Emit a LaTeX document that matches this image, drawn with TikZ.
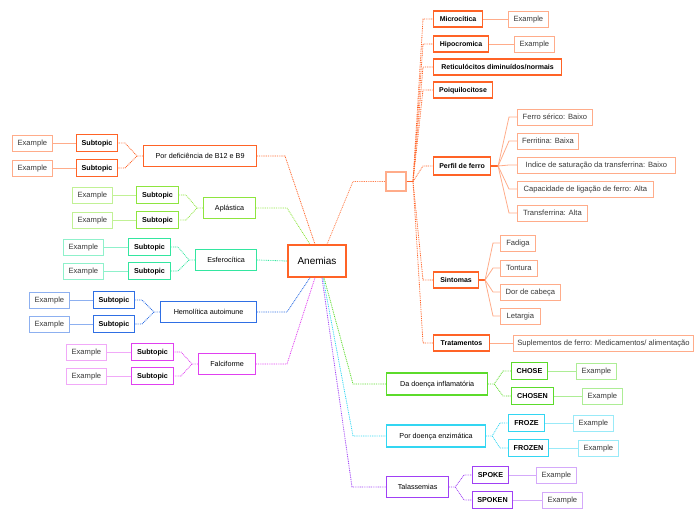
\documentclass[tikz,border=0pt]{standalone}
\usepackage{fontspec}
\setmainfont{Liberation Sans}
\usetikzlibrary{shadows}
\definecolor{orA}{HTML}{FF6326}
\definecolor{orL}{HTML}{FFAC8A}
\definecolor{grA}{HTML}{8EE53F}
\definecolor{grD}{HTML}{5CDB2B}
\definecolor{mnt}{HTML}{33E6A0}
\definecolor{blu}{HTML}{2F6FE4}
\definecolor{mag}{HTML}{E040F0}
\definecolor{cya}{HTML}{33D6F2}
\definecolor{pur}{HTML}{A040F5}
\definecolor{txg}{HTML}{3A3A3A}
\tikzset{
 box/.style={draw, fill=white, inner xsep=2pt, inner ysep=0pt, anchor=west, text height=5.3pt, text depth=0pt},
 shd/.style={drop shadow={shadow xshift=0.6pt, shadow yshift=-0.8pt, opacity=0.25, fill=black}},
 topic/.style={box, shd, line width=1.2pt, minimum height=21pt, font=\fontsize{7.2}{8}\selectfont},
 lev/.style={box, shd, line width=1.1pt, minimum height=16pt, font=\fontsize{7}{8}\selectfont\bfseries},
 sub/.style={box, shd, line width=1pt, minimum height=17pt, font=\fontsize{7.2}{8}\selectfont\bfseries},
 ex/.style={box, line width=0.8pt, minimum height=16pt, text=txg, font=\fontsize{7.6}{8}\selectfont},
 conn/.style={draw=#1, line width=0.8pt, dash pattern=on 0.9pt off 0.9pt},
 solc/.style={draw=#1, line width=0.8pt},
}
\begin{document}
\begin{tikzpicture}[x=1pt,y=-1pt]
\useasboundingbox (0,0) rectangle (696,520);
% central
\node[box, shd, draw=orA, line width=1.4pt, minimum width=58pt, minimum height=32pt, text height=7.2pt, font=\fontsize{10}{12}\selectfont, anchor=center] (anem) at (317,261) {Anemias};
\node[box, shd, draw=orL, line width=1.3pt, minimum width=20pt, minimum height=19pt, anchor=center] (hub) at (396,181.5) {};
\coordinate (hj) at (413,181.5);
% right orange
\node[lev, draw=orA, minimum width=49pt] (mic) at (433,19) {Microcítica};
\node[lev, draw=orA, minimum width=55pt] (hip) at (433,44) {Hipocromica};
\node[lev, draw=orA, minimum width=128pt] (ret) at (433,67) {Reticulócitos diminuídos/normais};
\node[lev, draw=orA, minimum width=59pt] (poi) at (433,90) {Poiquilocitose};
\node[lev, draw=orA, minimum width=57pt, minimum height=18pt] (per) at (433,166) {Perfil de ferro};
\node[lev, draw=orA, minimum width=45pt] (sin) at (433,280) {Sintomas};
\node[lev, draw=orA, minimum width=56pt] (tra) at (433,343) {Tratamentos};
\node[ex, draw=orL, minimum width=40pt] (micx) at (508,19) {Example};
\node[ex, draw=orL, minimum width=40pt] (hipx) at (514,44) {Example};
\node[ex, draw=orL, minimum width=75pt] (p1) at (517,117) {Ferro sérico: Baixo};
\node[ex, draw=orL, minimum width=61pt] (p2) at (517,141) {Ferritina: Baixa};
\node[ex, draw=orL, minimum width=158pt] (p3) at (517,165) {Indice de saturação da transferrina: Baixo};
\node[ex, draw=orL, minimum width=136pt] (p4) at (517,189) {Capacidade de ligação de ferro: Alta};
\node[ex, draw=orL, minimum width=70pt] (p5) at (517,213) {Transferrina: Alta};
\node[ex, draw=orL, minimum width=35pt] (s1) at (500,243) {Fadiga};
\node[ex, draw=orL, minimum width=37pt] (s2) at (500,268) {Tontura};
\node[ex, draw=orL, minimum width=60pt] (s3) at (500,292) {Dor de cabeça};
\node[ex, draw=orL, minimum width=40pt] (s4) at (500,316) {Letargia};
\node[ex, draw=orL, inner xsep=4pt] (trx) at (513,343) {Suplementos de ferro: Medicamentos/ alimentação};
% hub connectors
\draw[solc=orA, line width=1.2pt] (hub.east) -- (hj);
\foreach \n in {mic,hip,ret,poi,per,sin,tra}{
  \draw[conn=orA] (hj) -- (\n.west -| 423,0) -- (\n.west);
}
\draw[solc=orL] (mic) -- (micx);
\draw[solc=orL] (hip) -- (hipx);
\draw[solc=orL] (tra) -- (trx);
\draw[solc=orA, line width=1.1pt] (per.east) -- ++(7,0) coordinate (pj);
\foreach \n in {p1,p2,p3,p4,p5}{
  \draw[solc=orL] (pj) -- (\n.west -| 509,0) -- (\n.west);
}
\draw[solc=orA, line width=1.1pt] (sin.east) -- ++(6,0) coordinate (sj);
\foreach \n in {s1,s2,s3,s4}{
  \draw[solc=orL] (sj) -- (\n.west -| 493,0) -- (\n.west);
}
% bottom right
\node[topic, draw=grD, minimum width=101pt, minimum height=22pt] (inf) at (386,384) {Da doença inflamatória};
\node[sub, draw=grD, minimum width=36pt] (cho) at (511,371) {CHOSE};
\node[sub, draw=grD, minimum width=42pt] (chn) at (511,396) {CHOSEN};
\node[ex, draw=grD!50!white, minimum width=40pt] (chox) at (576,371) {Example};
\node[ex, draw=grD!50!white, minimum width=40pt] (chnx) at (582,396) {Example};
\node[topic, draw=cya, minimum width=99pt, minimum height=22pt] (enz) at (386,436) {Por doença enzimática};
\node[sub, draw=cya, minimum width=36pt] (frz) at (508,423) {FROZE};
\node[sub, draw=cya, minimum width=40pt] (frn) at (508,448) {FROZEN};
\node[ex, draw=cya!50!white, minimum width=40pt] (frzx) at (573,423) {Example};
\node[ex, draw=cya!50!white, minimum width=40pt] (frnx) at (578,448) {Example};
\node[topic, draw=pur, minimum width=62pt] (tal) at (386,487) {Talassemias};
\node[sub, draw=pur, minimum width=36pt] (spk) at (472,475) {SPOKE};
\node[sub, draw=pur, minimum width=40pt] (spn) at (472,500) {SPOKEN};
\node[ex, draw=pur!45!white, minimum width=40pt] (spkx) at (536,475) {Example};
\node[ex, draw=pur!45!white, minimum width=40pt] (spnx) at (542,500) {Example};
\draw[conn=grD] ([xshift=7pt]anem.south) -- (353,384) -- (inf.west);
\draw[conn=cya] ([xshift=6pt]anem.south) -- (353,436) -- (enz.west);
\draw[conn=pur] ([xshift=5pt]anem.south) -- (352,487) -- (tal.west);
\draw[conn=grD] (inf.east) -- ++(6,0) coordinate (ij) -- (cho.west -| 503,0) -- (cho.west);
\draw[conn=grD] (ij) -- (chn.west -| 503,0) -- (chn.west);
\draw[conn=cya] (enz.east) -- ++(6,0) coordinate (ej) -- (frz.west -| 500,0) -- (frz.west);
\draw[conn=cya] (ej) -- (frn.west -| 500,0) -- (frn.west);
\draw[conn=pur] (tal.east) -- ++(6,0) coordinate (tj) -- (spk.west -| 464,0) -- (spk.west);
\draw[conn=pur] (tj) -- (spn.west -| 464,0) -- (spn.west);
\draw[solc=grD!50!white] (cho) -- (chox);
\draw[solc=grD!50!white] (chn) -- (chnx);
\draw[solc=cya!50!white] (frz) -- (frzx);
\draw[solc=cya!50!white] (frn) -- (frnx);
\draw[solc=pur!45!white] (spk) -- (spkx);
\draw[solc=pur!45!white] (spn) -- (spnx);
% to hub
\draw[conn=orA!60!orL] ([xshift=10pt]anem.north) -- (353,181.5) -- (hub.west);
% B12
\node[topic, draw=orA, minimum width=113pt] (b12) at (143,156) {Por deficiência de B12 e B9};
\node[sub, draw=orA, minimum width=41pt] (b1) at (76,143) {Subtopic};
\node[sub, draw=orA, minimum width=41pt] (b2) at (76,168) {Subtopic};
\node[ex, draw=orL, minimum width=40pt] (b1x) at (12,143) {Example};
\node[ex, draw=orL, minimum width=40pt] (b2x) at (12,168) {Example};
% Aplastica
\node[topic, draw=grA, minimum width=52pt] (apl) at (203,208) {Aplástica};
\node[sub, draw=grA, minimum width=42pt] (a1) at (136,195) {Subtopic};
\node[sub, draw=grA, minimum width=42pt] (a2) at (136,220) {Subtopic};
\node[ex, draw=grA!55!white, minimum width=40pt] (a1x) at (72,195) {Example};
\node[ex, draw=grA!55!white, minimum width=40pt] (a2x) at (72,220) {Example};
% Esferocitica
\node[topic, draw=mnt, minimum width=61pt] (esf) at (195,260) {Esferocítica};
\node[sub, draw=mnt, minimum width=42pt] (e1) at (128,247) {Subtopic};
\node[sub, draw=mnt, minimum width=42pt] (e2) at (128,271) {Subtopic};
\node[ex, draw=mnt!55!white, minimum width=40pt] (e1x) at (63,247) {Example};
\node[ex, draw=mnt!55!white, minimum width=40pt] (e2x) at (63,271) {Example};
% Hemolitica
\node[topic, draw=blu, minimum width=96pt] (hem) at (160,312) {Hemolítica autoimune};
\node[sub, draw=blu, minimum width=41pt] (h1) at (93,300) {Subtopic};
\node[sub, draw=blu, minimum width=41pt] (h2) at (93,324) {Subtopic};
\node[ex, draw=blu!55!white, minimum width=40pt] (h1x) at (29,300) {Example};
\node[ex, draw=blu!55!white, minimum width=40pt] (h2x) at (29,324) {Example};
% Falciforme
\node[topic, draw=mag, minimum width=57pt] (fal) at (198,364) {Falciforme};
\node[sub, draw=mag, minimum width=42pt] (f1) at (131,352) {Subtopic};
\node[sub, draw=mag, minimum width=42pt] (f2) at (131,376) {Subtopic};
\node[ex, draw=mag!45!white, minimum width=40pt] (f1x) at (66,352) {Example};
\node[ex, draw=mag!45!white, minimum width=40pt] (f2x) at (66,376) {Example};
% left connectors to center
\draw[conn=orA] (b12.east) -- (285,156) -- ([xshift=-2pt]anem.north);
\draw[conn=grA] (apl.east) -- (287,208) -- ([xshift=-7pt]anem.north);
\draw[conn=mnt] (esf.east) -- (anem.west);
\draw[conn=blu] (hem.east) -- (287,312) -- ([xshift=-7pt]anem.south);
\draw[conn=mag] (fal.east) -- (287,364) -- ([xshift=-2pt]anem.south);
% left sub connectors
\foreach \p/\a/\b/\c in {b12/b1/b2/orA, apl/a1/a2/grA, esf/e1/e2/mnt, hem/h1/h2/blu, fal/f1/f2/mag}{
  \draw[conn=\c] (\p.west) -- ++(-6,0) coordinate (j) -- ([xshift=7pt]\a.east) -- (\a.east);
  \draw[conn=\c] (j) -- ([xshift=7pt]\b.east) -- (\b.east);
}
\draw[solc=orL] (b1) -- (b1x);
\draw[solc=orL] (b2) -- (b2x);
\draw[solc=grA!55!white] (a1) -- (a1x);
\draw[solc=grA!55!white] (a2) -- (a2x);
\draw[solc=mnt!55!white] (e1) -- (e1x);
\draw[solc=mnt!55!white] (e2) -- (e2x);
\draw[solc=blu!55!white] (h1) -- (h1x);
\draw[solc=blu!55!white] (h2) -- (h2x);
\draw[solc=mag!45!white] (f1) -- (f1x);
\draw[solc=mag!45!white] (f2) -- (f2x);
\end{tikzpicture}
\end{document}
